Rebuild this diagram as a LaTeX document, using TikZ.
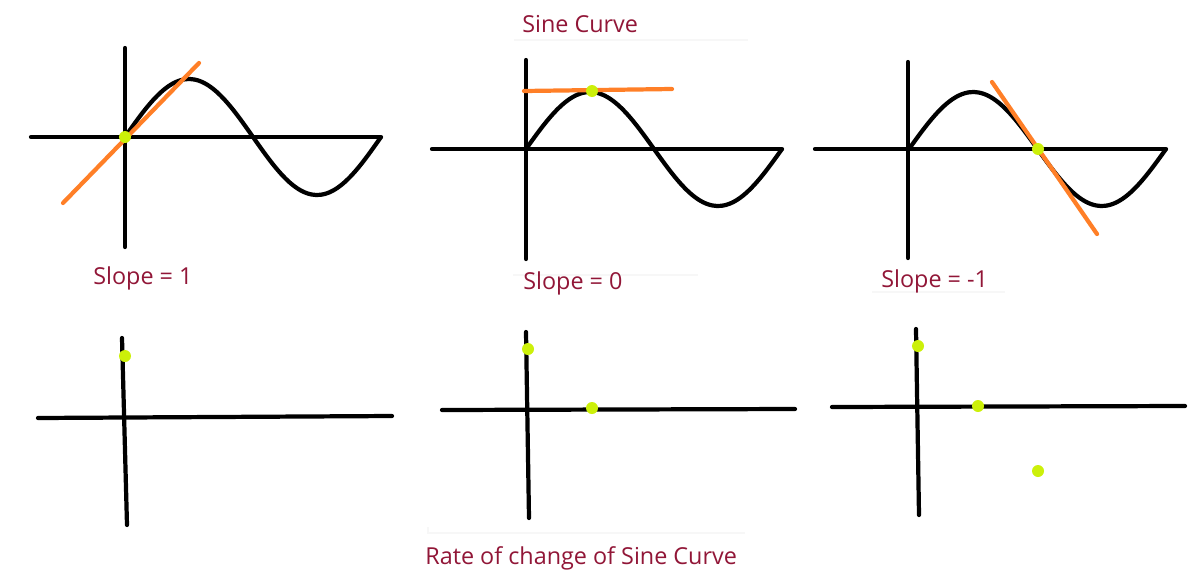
\documentclass[tikz,border=0pt]{standalone}
\usepackage{fontspec}
\setmainfont{Open Sans}
\usepackage{tikz}
\usetikzlibrary{positioning}
\usepackage{xcolor}
\definecolor{capred}{RGB}{145,22,55}
\definecolor{tanorange}{RGB}{255,127,39}
\definecolor{ptlime}{RGB}{204,240,10}

\begin{document}
\begin{tikzpicture}[x=0.02cm,y=-0.02cm,every node/.style={font=\fontsize{13.3}{15}\selectfont,text=capred,inner sep=0pt,anchor=base west},axis/.style={line width=2.4pt,line cap=round},curve/.style={line width=2.4pt,line join=round},tangent/.style={tanorange,line width=2.4pt,line cap=round},pt/.style={circle,fill=ptlime,minimum size=0.24cm,inner sep=0pt,anchor=center},faint/.style={black!3,line width=0.6pt}]
\useasboundingbox (0,0) rectangle (1194,582);
% faint underlines
\draw[faint] (514,40) -- (748,40); \draw[faint] (513,275) -- (698,275); \draw[faint] (872,292) -- (1005,292); \draw[faint] (428,527) -- (428,533) -- (745,533);
% top row: sine with tangent
\draw[axis] (125,48) -- (125,247); \draw[axis] (31,137) -- (381,137);
\draw[curve] plot[domain=0:256,samples=60,smooth] ({125+\x},{137-58*sin(\x/256*360)});
\draw[tangent] (63,203) -- (199,63);
\node[pt] (p1) at (125,137) {};
\draw[axis] (526,60) -- (526,259); \draw[axis] (432,149) -- (782,149);
\draw[curve] plot[domain=0:256,samples=60,smooth] ({526+\x},{149-57*sin(\x/256*360)});
\draw[tangent] (524,91) -- (672,89);
\node[pt] (p2) at (592,91) {};
\draw[axis] (908,62) -- (908,258); \draw[axis] (815,149) -- (1166,149);
\draw[curve] plot[domain=0:257,samples=60,smooth] ({909+\x},{149-57*sin(\x/257*360)});
\draw[tangent] (992,82) -- (1097,234);
\node[pt] (p3) at (1038,149) {};
% bottom row: rate of change
\draw[axis] (122,338) -- (127,525); \draw[axis] (38,418) -- (392,416);
\node[pt] (r1) at (125,356) {};
\draw[axis] (526,332) -- (529,518); \draw[axis] (442,410) -- (795,409);
\node[pt] (r2a) at (528,349) {}; \node[pt] (r2b) at (592,408) {};
\draw[axis] (916,329) -- (919,515); \draw[axis] (832,407) -- (1185,406);
\node[pt] (r3a) at (918,346) {}; \node[pt] (r3b) at (978,406) {}; \node[pt] (r3c) at (1038,471) {};
% labels
\node (title) at (522,32) {Sine Curve};
\node (s1) at (93,284) {Slope = 1};
\node (s2) at (523,289) {Slope = 0};
\node (s3) at (881,287) {Slope = -1};
\node (rate) at (425,564) {Rate of change of Sine Curve};
\end{tikzpicture}
\end{document}
